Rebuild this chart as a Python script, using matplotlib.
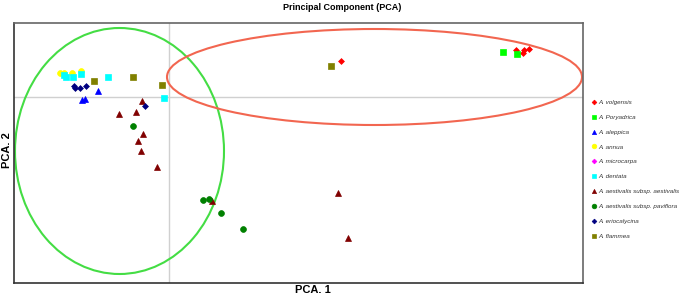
import matplotlib.pyplot as plt
from matplotlib.patches import Ellipse

# Scores PCA (PCA.1, PCA.2) por espécie
species = ["A. volgensis", "A. Poryadrica", "A. aleppica", "A. annua", "A. microcarpa",
           "A. dentata", "A. aestivalis subsp. aestivalis", "A. aestivalis subsp. paviflora",
           "A. eriocalycina", "A. flammea"]

volgensis_x = [3.44, 6.93, 7.07, 7.10, 7.19]
volgensis_y = [0.73, 0.94, 0.89, 0.94, 0.97]
poryadrica_x = [6.67, 6.95]
poryadrica_y = [0.90, 0.87]
aleppica_x = [-1.43, -1.75, -1.69]
aleppica_y = [0.13, -0.05, -0.03]
annua_x = [-2.18, -2.11, -1.94, -1.77]
annua_y = [0.48, 0.49, 0.49, 0.53]
microcarpa_x = []
microcarpa_y = []
dentata_x = [-2.11, -2.06, -1.93, -1.76, -1.22, -0.11]
dentata_y = [0.45, 0.41, 0.41, 0.47, 0.40, -0.01]
aestivalis_x = [-0.54, -0.66, -1.00, -0.53, -0.63, -0.57, -0.24, 0.85, 3.37, 3.57]
aestivalis_y = [-0.07, -0.30, -0.34, -0.73, -0.87, -1.07, -1.39, -2.08, -1.91, -2.83]
paviflora_x = [-0.73, 0.67, 0.79, 1.04, 1.47]
paviflora_y = [-0.58, -2.06, -2.04, -2.32, -2.65]
eriocalycina_x = [-1.91, -1.89, -1.79, -1.67, -0.49]
eriocalycina_y = [0.22, 0.19, 0.19, 0.23, -0.17]
flammea_x = [-1.50, -0.73, -0.15, 3.23]
flammea_y = [0.33, 0.41, 0.24, 0.62]

series = [
    (volgensis_x, volgensis_y, "D", "#ff0000", 3.0),
    (poryadrica_x, poryadrica_y, "s", "#00ff00", 3.8),
    (aleppica_x, aleppica_y, "^", "#0000ff", 3.8),
    (annua_x, annua_y, "o", "#ffff00", 4.2),
    (microcarpa_x, microcarpa_y, "D", "#ff00ff", 3.0),
    (dentata_x, dentata_y, "s", "#00ffff", 3.8),
    (aestivalis_x, aestivalis_y, "^", "#800000", 3.8),
    (paviflora_x, paviflora_y, "o", "#008000", 4.2),
    (eriocalycina_x, eriocalycina_y, "D", "#000080", 3.0),
    (flammea_x, flammea_y, "s", "#808000", 3.8),
]

plt.rcParams['font.family'] = ['Liberation Sans', 'DejaVu Sans']

fig = plt.figure(figsize=(6.85, 2.98), dpi=100)
ax = fig.add_axes([14 / 685, 15 / 298, 569 / 685, 260 / 298])

# linhas de referência em zero
ax.axhline(0, color="#d0d0d0", lw=1.0, zorder=0)
ax.axvline(0, color="#d0d0d0", lw=1.0, zorder=0)

handles = []
for (xs, ys, mk, col, ms), name in zip(series, species):
    h, = ax.plot(xs, ys, linestyle="none", marker=mk, color=col, markersize=ms,
                 markeredgewidth=0.5, markeredgecolor=col, label=name, zorder=3)
    handles.append(h)

# agrupamentos
ax.add_patch(Ellipse((-0.99, -1.08), 4.18, 4.92, fill=False, edgecolor="#44dd44", lw=1.5, zorder=2))
ax.add_patch(Ellipse((4.11, 0.40), 8.3, 1.92, fill=False, edgecolor="#f26650", lw=1.5, zorder=2))

ax.set_xlim(-3.10, 8.28)
ax.set_ylim(-3.72, 1.48)
ax.set_xticks([])
ax.set_yticks([])
for side in ["left", "bottom"]:
    ax.spines[side].set_color("#333333")
    ax.spines[side].set_linewidth(1.2)
for side in ["top", "right"]:
    ax.spines[side].set_color("#666666")
    ax.spines[side].set_linewidth(1.2)

fig.text(342 / 685, 1 - 8 / 298, "Principal Component (PCA)", ha="center", va="center",
         fontsize=6.5, fontweight="bold")
fig.text(313 / 685, 1 - 290 / 298, "PCA. 1", ha="center", va="center",
         fontsize=8, fontweight="bold")
fig.text(7 / 685, 1 - 150 / 298, "PCA. 2", ha="center", va="center",
         fontsize=8, fontweight="bold", rotation=90)

fig.legend(handles=handles, loc="upper left", bbox_to_anchor=(589 / 685, 1 - 96.5 / 298),
           frameon=False, prop={"size": 4.5, "style": "italic"}, handlelength=0.6,
           handletextpad=0.4, labelspacing=1.52, borderpad=0, markerscale=0.8,
           labelcolor="#333333")

fig.savefig("out.png", dpi=100)
